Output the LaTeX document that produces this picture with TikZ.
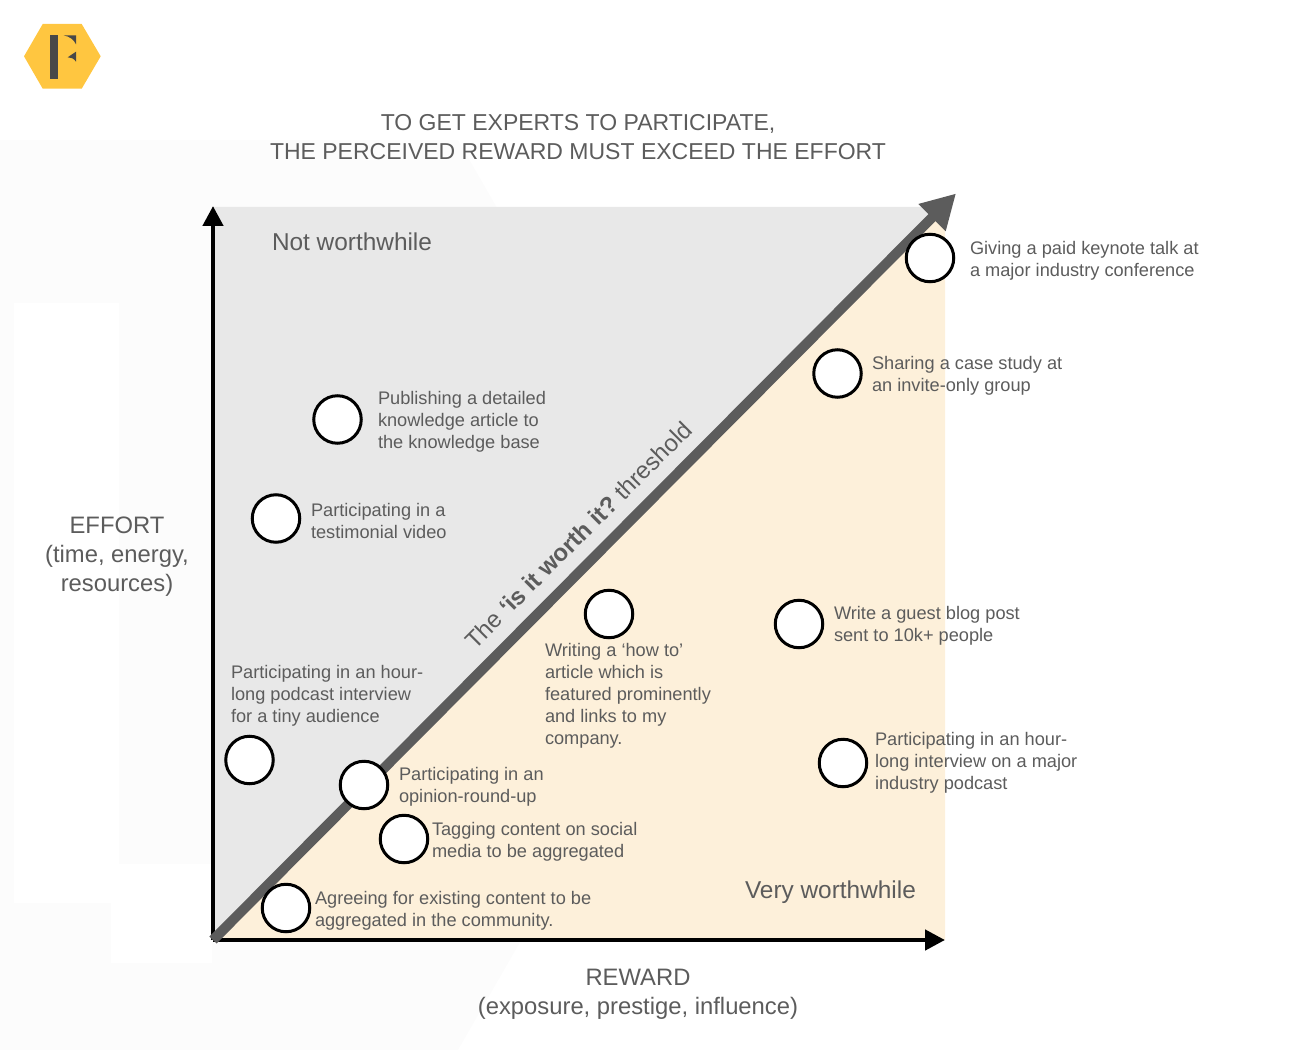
\documentclass[tikz,border=0pt]{standalone}
\usepackage{fontspec}
\setmainfont{Liberation Sans}
\usetikzlibrary{arrows.meta, positioning}
\definecolor{inkgrey}{HTML}{5C5C5C}
\definecolor{coldgrey}{HTML}{E8E8E8}
\definecolor{warmcream}{HTML}{FDF0DA}
\definecolor{paleback}{HTML}{FCFCFC}
\definecolor{logoyellow}{HTML}{FFC640}
\definecolor{logoink}{HTML}{484848}
\begin{document}
\begin{tikzpicture}[x=1pt, y=-1pt, every node/.style={inner sep=0pt, outer sep=0pt, text=inkgrey},
    spot node/.style={circle, draw=black, fill=white, line width=3pt, minimum size=47.5pt},
    item node/.style={align=left, anchor=west, font=\fontsize{18.2}{22}\selectfont},
    head node/.style={align=center, font=\fontsize{23}{29}\selectfont},
    big node/.style={align=center, font=\fontsize{23.8}{29}\selectfont},
    zone node/.style={anchor=west, font=\fontsize{24.4}{29}\selectfont},
    axis line/.style={draw=black, line width=4.5pt, -{Triangle[length=20pt, width=20pt]}}]
\useasboundingbox (0,0) rectangle (1305,1056);
% pale backdrop
\fill[paleback] (0,140) -- (458,140) -- (720,595) -- (458,1050) -- (0,1050) -- cycle;
\fill[white] (14,303) rectangle (119,903);
\fill[white] (111,864) rectangle (212,963);
% logo
\fill[logoyellow] (24,56.3) -- (42.7,24) -- (81.7,24) -- (100.7,56.3) -- (81.7,88.7) -- (42.7,88.7) -- cycle;
\fill[logoink] (50,35.3) rectangle (57.7,78.7);
\fill[logoink] (63.5,35.3) -- (76,35.3) -- (76,44.3) .. controls (74,40) and (70,36.5) .. cycle;
\fill[logoink] (67.7,57.3) -- (76,51.7) -- (76,61.7) .. controls (74,58.5) and (71,57.3) .. cycle;
% zones
\coordinate (origin) at (213,940);
\coordinate (topleft) at (213,206);
\coordinate (topright) at (945,207);
\coordinate (botright) at (945,940);
\coordinate (corner) at (213,207);
\coordinate (tip) at (956,193.5);
\fill[coldgrey] (origin) -- (corner) -- (topright) -- cycle;
\fill[warmcream] (origin) -- (topright) -- (botright) -- cycle;
% axes
\draw[axis line] (origin) -- (topleft);
\draw[axis line] (origin) -- (botright);
\draw[draw=inkgrey, line width=10pt, -{Triangle[length=34pt, width=36pt]}] (origin) -- (tip);
% titles
\node[head node] (title) at (578,137) {TO GET EXPERTS TO PARTICIPATE,\\THE PERCEIVED REWARD MUST EXCEED THE EFFORT};
\node[big node] (effort) at (117,557) {EFFORT\\(time, energy,\\resources)};
\node[big node] (reward) at (638,994) {REWARD\\(exposure, prestige, influence)};
\node[zone node] (notworth) at (272,241.5) {Not worthwhile};
\node[zone node] (veryworth) at (745,892) {Very worthwhile};
\node[rotate=45, font=\fontsize{24}{29}\selectfont] (threshold) at (578.5,535) {The \textbf{‘is it worth it?}\ threshold};
% spots
\node[spot node] (keynote) at (930,258) {};
\node[spot node] (casestudy) at (837.5,373.5) {};
\node[spot node] (publishing) at (337.5,419.5) {};
\node[spot node] (testimonial) at (276,518.5) {};
\node[spot node] (howto) at (609,614) {};
\node[spot node] (guestpost) at (799,624) {};
\node[spot node] (tiny) at (249.5,760) {};
\node[spot node] (roundup) at (364,785) {};
\node[spot node] (majorpod) at (843,763) {};
\node[spot node] (tagging) at (404,839) {};
\node[spot node] (agreeing) at (286,908) {};
% labels
\node[item node] (keynotetext) at (970,260.5) {Giving a paid keynote talk at\\a major industry conference};
\node[item node] (casetext) at (872,375.5) {Sharing a case study at\\an invite-only group};
\node[item node] (publishtext) at (378,422) {Publishing a detailed\\knowledge article to\\the knowledge base};
\node[item node] (testitext) at (311,521) {Participating in a\\testimonial video};
\node[item node] (howtotext) at (545,695.5) {Writing a ‘how to’\\article which is\\featured prominently\\and links to my\\company.};
\node[item node] (guesttext) at (834,626) {Write a guest blog post\\sent to 10k+ people};
\node[item node] (tinytext) at (231,695.5) {Participating in an hour-\\long podcast interview\\for a tiny audience};
\node[item node] (rounduptext) at (399,787) {Participating in an\\opinion-round-up};
\node[item node] (majortext) at (875,762.5) {Participating in an hour-\\long interview on a major\\industry podcast};
\node[item node] (taggingtext) at (432,841.5) {Tagging content on social\\media to be aggregated};
\node[item node] (agreeingtext) at (315,910.5) {Agreeing for existing content to be\\aggregated in the community.};
\end{tikzpicture}
\end{document}
